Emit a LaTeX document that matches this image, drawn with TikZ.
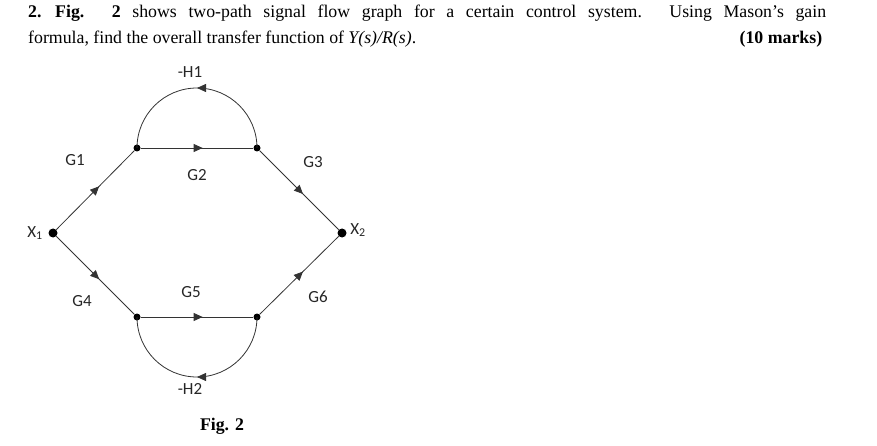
\documentclass[tikz,border=0pt]{standalone}
\usepackage{fontspec}
\setmainfont{Liberation Serif}
\newfontfamily\lab{Carlito}
\usetikzlibrary{decorations.markings,arrows.meta}
\begin{document}
\begin{tikzpicture}[x=1pt,y=-1pt,
  dot/.style={circle,fill=black,inner sep=0pt,minimum size=7pt},
  lbl/.style={font=\lab\fontsize{17}{19}\selectfont,inner sep=0pt,text=black!85},
  br/.style={line width=0.8pt,draw=black!80,postaction={decorate},
    decoration={markings,mark=at position #1 with {\arrow{Triangle[length=9pt,width=8pt]}}}},
  br/.default=0.55]
\useasboundingbox (0,0) rectangle (877,446);
\node[anchor=north west,inner sep=0pt,text width=798pt,font=\fontsize{17.8}{26}\selectfont,align=justify] (txt) at (28,5)
 {\hangindent=27pt\hangafter=1 \makebox[27pt][l]{\textbf{2.}}\textbf{Fig. 2} shows two-path signal flow graph for a certain control system. Using Mason's gain\linebreak formula, find the overall transfer function of \textit{Y(s)/R(s)}.\hfill\textbf{(10 marks)}\kern4pt};
\node[dot,minimum size=9pt] (x1) at (53,233) {};
\node[dot,minimum size=9pt] (x2) at (342,233) {};
\node[dot] (a) at (137,148) {};
\node[dot] (b) at (257,148) {};
\node[dot] (c) at (137,317) {};
\node[dot] (d) at (257,317) {};
\draw[br] (x1) -- (a);
\draw[br] (a) -- (b);
\draw[br] (b) -- (x2);
\draw[br] (x1) -- (c);
\draw[br] (c) -- (d);
\draw[br] (d) -- (x2);
\draw[br=0.5] (b.center) arc[start angle=0,end angle=-180,radius=60];
\draw[br=0.5] (d.center) arc[start angle=0,end angle=180,radius=60];
\node[lbl] (h1) at (190,72) {-H1};
\node[lbl] (g1) at (75,160) {G1};
\node[lbl] (g2) at (197,175) {G2};
\node[lbl] (g3) at (313,162) {G3};
\node[lbl] (g4) at (82,301) {G4};
\node[lbl] (g5) at (191,292) {G5};
\node[lbl] (g6) at (318,297) {G6};
\node[lbl] (h2) at (190,389) {-H2};
\node[lbl] (l1) at (35,233) {X\textsubscript{1}};
\node[lbl] (l2) at (358,230) {X\textsubscript{2}};
\node[inner sep=0pt,font=\bfseries\fontsize{17.8}{19}\selectfont] (fig) at (222,426) {Fig. 2};
\end{tikzpicture}
\end{document}
